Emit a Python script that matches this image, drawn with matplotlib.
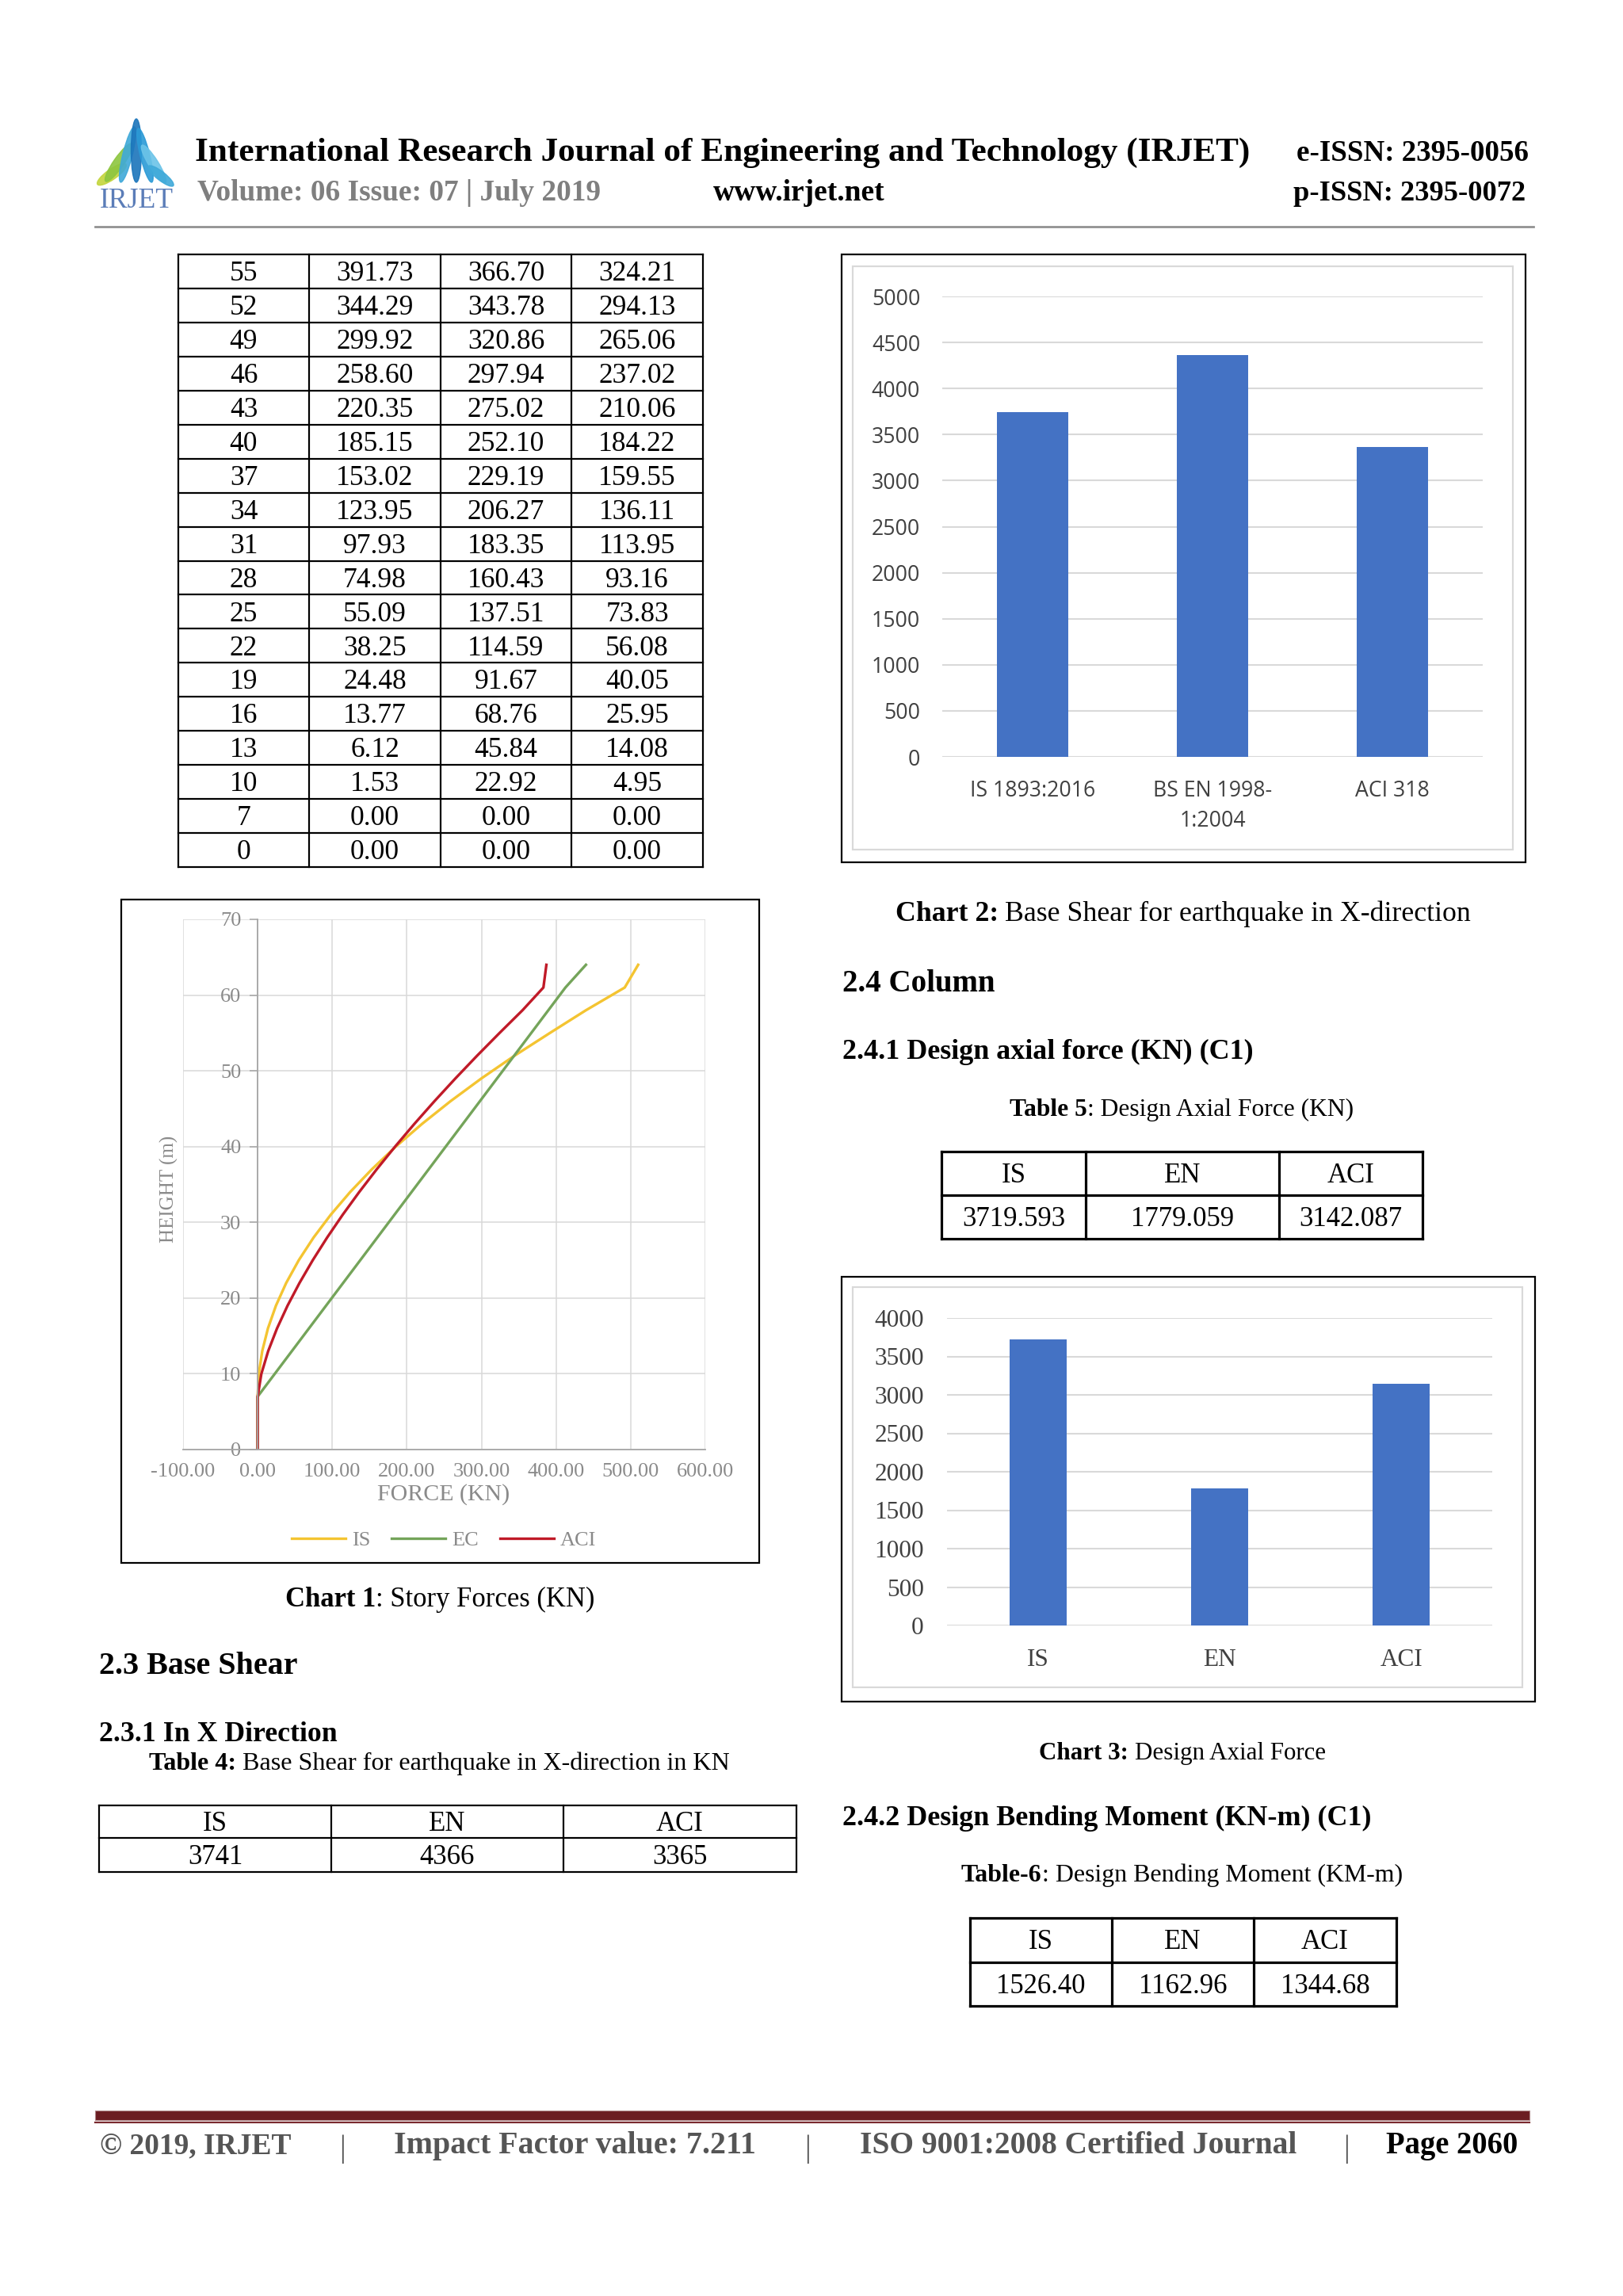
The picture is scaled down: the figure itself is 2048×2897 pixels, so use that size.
import matplotlib
matplotlib.use("Agg")
import matplotlib.pyplot as plt
from matplotlib.patches import Rectangle, Ellipse
import numpy as np

# ---------------- data ----------------
table_heights = [55, 52, 49, 46, 43, 40, 37, 34, 31, 28, 25, 22, 19, 16, 13, 10, 7, 0]
table_is = [391.73, 344.29, 299.92, 258.60, 220.35, 185.15, 153.02, 123.95, 97.93,
            74.98, 55.09, 38.25, 24.48, 13.77, 6.12, 1.53, 0.00, 0.00]
table_en = [366.70, 343.78, 320.86, 297.94, 275.02, 252.10, 229.19, 206.27, 183.35,
            160.43, 137.51, 114.59, 91.67, 68.76, 45.84, 22.92, 0.00, 0.00]
table_aci = [324.21, 294.13, 265.06, 237.02, 210.06, 184.22, 159.55, 136.11, 113.95,
             93.16, 73.83, 56.08, 40.05, 25.95, 14.08, 4.95, 0.00, 0.00]
top_heights = [64, 61, 58]
top_is = [510.0, 492.0, 440.0]
top_en = [440.0, 412.5, 389.6]
top_aci = [387.0, 383.0, 355.0]

story_series = ["IS", "EC", "ACI"]
force_ticks = [-100, 0, 100, 200, 300, 400, 500, 600]
height_ticks = [0, 10, 20, 30, 40, 50, 60, 70]

base_shear_codes = ["IS 1893:2016", "BS EN 1998-\n1:2004", "ACI 318"]
base_shear = [3741, 4366, 3365]
base_shear_ticks = [0, 500, 1000, 1500, 2000, 2500, 3000, 3500, 4000, 4500, 5000]

code_short = ["IS", "EN", "ACI"]
axial_force = [3719.593, 1779.059, 3142.087]
axial_ticks = [0, 500, 1000, 1500, 2000, 2500, 3000, 3500, 4000]
bending_moment = [1526.40, 1162.96, 1344.68]

# ---------------- page ----------------
W, H = 2048, 2897
DPI = 100
PT = 72.0 / DPI          # points per pixel
SERIF = 'Liberation Serif'
SANS = 'Open Sans'

fig = plt.figure(figsize=(W / DPI, H / DPI), dpi=DPI)
fig.patch.set_facecolor('white')
page = fig.add_axes([0, 0, 1, 1])
page.set_xlim(0, W)
page.set_ylim(H, 0)
page.axis('off')
renderer = fig.canvas.get_renderer()


def measure(s, size, weight, family=SERIF):
    if s.strip() == '':
        return measure('x' + s + 'x', size, weight, family) - measure('xx', size, weight, family)
    t = page.text(0, 0, s, fontsize=size, fontweight=weight, family=family)
    w = t.get_window_extent(renderer=renderer).width
    t.remove()
    return w


def rich(x, y, parts, width=None, size=None, ha='left', family=SERIF):
    parts = [(p[0], p[1], p[2] if len(p) > 2 else 'black') for p in parts]
    base = 20.0
    ws = [measure(s, base, wt, family) for s, wt, c in parts]
    tot = sum(ws)
    if width is not None:
        size = base * width / tot
    sc = size / base
    ws = [w * sc for w in ws]
    tot *= sc
    x0 = x if ha == 'left' else (x - tot / 2 if ha == 'center' else x - tot)
    for (s, wt, c), w in zip(parts, ws):
        if s.strip():
            page.text(x0, y, s, fontsize=size, fontweight=wt, family=family,
                      color=c, va='baseline', ha='left')
        x0 += w
    return size


def hline(x0, x1, y, lw_px, color='black'):
    page.plot([x0, x1], [y, y], color=color, lw=lw_px * PT, solid_capstyle='projecting')


def vline(x, y0, y1, lw_px, color='black'):
    page.plot([x, x], [y0, y1], color=color, lw=lw_px * PT, solid_capstyle='projecting')


def grid_table(xs, ys, rows, size, lw_px):
    for x in xs:
        vline(x, ys[0], ys[-1], lw_px)
    for y in ys:
        hline(xs[0], xs[-1], y, lw_px)
    cap = 0.66 * size / PT
    for i, row in enumerate(rows):
        yc = (ys[i] + ys[i + 1]) / 2
        for j, s in enumerate(row):
            xc = (xs[j] + xs[j + 1]) / 2
            page.text(xc, yc + cap / 2, s, fontsize=size, family=SERIF,
                      ha='center', va='baseline', color='black')


def box(x0, y0, x1, y1, lw_px, color):
    page.add_patch(Rectangle((x0, y0), x1 - x0, y1 - y0, fill=False,
                             edgecolor=color, lw=lw_px * PT))


# ---------------- header ----------------
leaves = [(141, 220, 13, 44, 55, '#c3d53c'), (150, 205, 13, 58, 35, '#8dc63f'),
          (161, 195, 12, 72, 14, '#3fa9d9'), (172, 190, 13, 80, 0, '#1b75bb'),
          (183, 196, 12, 70, -14, '#2b9ad6'), (194, 207, 12, 56, -32, '#6cc4e8'),
          (203, 222, 11, 40, -52, '#3fa9d9')]
for cx, cy, w, h, a, c in leaves:
    page.add_patch(Ellipse((cx, cy), w, h, angle=a, color=c, alpha=0.9))
rich(126, 262, [("IRJET", 'normal', '#5b7db8')], width=93)

rich(246, 203, [("International Research Journal of Engineering and Technology (IRJET)", 'bold')],
     width=1330)
rich(1928, 203, [("e-ISSN: 2395-0056", 'bold')], width=292, ha='right')
rich(249, 253, [("Volume: 06 Issue: 07 | July 2019", 'bold', '#7f7f7f')], width=509)
rich(900, 253, [("www.irjet.net", 'bold')], width=217)
rich(1924, 253, [("p-ISSN: 2395-0072", 'bold')], width=292, ha='right')
hline(120, 1935, 286, 2.7, '#8f8f8f')

# ---------------- table of storey forces ----------------
t1_rows = [[str(h), f"{a:.2f}", f"{b:.2f}", f"{c:.2f}"]
           for h, a, b, c in zip(table_heights, table_is, table_en, table_aci)]
grid_table([225, 390, 556, 721, 887], list(np.linspace(321, 1094, len(t1_rows) + 1)),
           t1_rows, 25.5, 2.2)

# ---------------- Chart 1: story forces ----------------
box(153, 1135, 958, 1972, 2.2, 'black')
x0p, x1p, ytp, ybp = 231, 890, 1160, 1829
ax1 = fig.add_axes([x0p / W, 1 - ybp / H, (x1p - x0p) / W, (ybp - ytp) / H])
heights = table_heights[::-1] + top_heights[::-1]
is_f = table_is[::-1] + top_is[::-1]
en_f = table_en[::-1] + top_en[::-1]
aci_f = table_aci[::-1] + top_aci[::-1]
colors1 = ['#f4c431', '#74a45a', '#c01a28']
for vals, lab, col in zip([is_f, en_f, aci_f], story_series, colors1):
    ax1.plot(vals, heights, color=col, lw=2.4, label=lab, solid_joinstyle='round')
ax1.set_xlim(-100, 600)
ax1.set_ylim(0, 70)
ax1.set_xticks(force_ticks)
ax1.set_xticklabels([f"{v:.2f}" for v in force_ticks])
ax1.set_yticks(height_ticks)
ax1.grid(True, color='#d9d9d9', lw=1.1)
ax1.set_axisbelow(True)
for s in ['top', 'right']:
    ax1.spines[s].set_visible(False)
ax1.spines['left'].set_position(('data', 0))
for s in ['left', 'bottom']:
    ax1.spines[s].set_color('#a6a6a6')
    ax1.spines[s].set_linewidth(1.3)
ax1.tick_params(axis='y', direction='out', length=7, width=1.1, color='#a6a6a6', pad=8,
                labelsize=19, labelcolor='#8a8a8a')
ax1.tick_params(axis='x', length=0, pad=12, labelsize=19, labelcolor='#8a8a8a')
for lbl in ax1.get_xticklabels() + ax1.get_yticklabels():
    lbl.set_family(SERIF)
ax1.set_xlabel("FORCE (KN)", family=SERIF, fontsize=21.5, color='#8a8a8a')
ax1.xaxis.set_label_coords((560 - x0p) / (x1p - x0p), (ybp - 1872) / (ybp - ytp))
ax1.set_ylabel("HEIGHT (m)", family=SERIF, fontsize=18, color='#8a8a8a')
ax1.yaxis.set_label_coords((225 - x0p) / (x1p - x0p), (ybp - 1500) / (ybp - ytp))
leg = ax1.legend(loc='center', bbox_to_anchor=(560 / W, 1 - 1943 / H),
                 bbox_transform=fig.transFigure, ncol=3, frameon=False,
                 handlelength=2.6, handletextpad=0.3, columnspacing=1.0,
                 prop={'family': SERIF, 'size': 19})
for t in leg.get_texts():
    t.set_color('#8a8a8a')

# ---------------- Chart 2: base shear ----------------
box(1062, 321, 1925, 1088, 2.2, 'black')
box(1076, 336, 1909, 1072, 2.2, '#d9d9d9')
ax2 = fig.add_axes([1189 / W, 1 - 955 / H, (1871 - 1189) / W, (955 - 374) / H])
ax2.bar(range(len(base_shear)), base_shear, width=0.397, color='#4472c4', zorder=3)
ax2.set_xlim(-0.5, 2.5)
ax2.set_ylim(0, 5000)
ax2.set_yticks(base_shear_ticks)
ax2.set_xticks(range(len(base_shear_codes)))
ax2.set_xticklabels(base_shear_codes, linespacing=1.45)
ax2.yaxis.grid(True, color='#d9d9d9', lw=1.5)
ax2.set_axisbelow(True)
for s in ax2.spines.values():
    s.set_visible(False)
ax2.tick_params(axis='both', length=0, labelsize=19.2, labelcolor='#404040')
ax2.tick_params(axis='y', pad=20)
ax2.tick_params(axis='x', pad=21)
for lbl in ax2.get_xticklabels() + ax2.get_yticklabels():
    lbl.set_family(SANS)

# ---------------- Chart 3: design axial force ----------------
box(1062, 1611, 1937, 2147, 2.2, 'black')
box(1076, 1624, 1921, 2129, 2.2, '#d9d9d9')
ax3 = fig.add_axes([1195 / W, 1 - 2051 / H, (1883 - 1195) / W, (2051 - 1663) / H])
ax3.bar(range(len(axial_force)), axial_force, width=0.314, color='#4472c4', zorder=3)
ax3.set_xlim(-0.5, 2.5)
ax3.set_ylim(0, 4000)
ax3.set_yticks(axial_ticks)
ax3.set_xticks(range(len(code_short)))
ax3.set_xticklabels(code_short)
ax3.yaxis.grid(True, color='#d9d9d9', lw=1.5)
ax3.set_axisbelow(True)
for s in ax3.spines.values():
    s.set_visible(False)
ax3.tick_params(axis='both', length=0, labelsize=22.5, labelcolor='#404040')
ax3.tick_params(axis='y', pad=21)
ax3.tick_params(axis='x', pad=21)
for lbl in ax3.get_xticklabels() + ax3.get_yticklabels():
    lbl.set_family(SERIF)

# ---------------- left column text ----------------
rich(555, 2027, [("Chart 1", 'bold'), (": Story Forces (KN)", 'normal')], width=391, ha='center')
rich(125, 2112, [("2.3 Base Shear", 'bold')], width=251)
rich(125, 2197, [("2.3.1 In X Direction", 'bold')], width=300)
rich(188, 2233, [("Table 4:", 'bold'), (" ", 'normal'),
                 ("Base Shear for earthquake in X-direction in KN", 'normal')], width=734)
grid_table([125, 418, 711, 1005], [2278, 2319, 2362],
           [code_short, [str(v) for v in base_shear]], 25, 2.2)

# ---------------- right column text ----------------
rich(1492, 1162, [("Chart 2:", 'bold'), (" ", 'normal'),
                  ("Base Shear for earthquake in X-direction", 'normal')], width=725, ha='center')
rich(1063, 1251, [("2.4 Column", 'bold')], width=193)
rich(1063, 1336, [("2.4.1 Design axial force (KN) (C1)", 'bold')], width=519)
rich(1492, 1408, [("Table 5", 'bold'), (": Design Axial Force (KN)", 'normal')], width=435, ha='center')
grid_table([1188, 1370, 1614, 1795], [1453, 1508, 1563],
           [code_short, [f"{v:.3f}" for v in axial_force]], 25, 3.2)
rich(1492, 2220, [("Chart 3:", 'bold'), (" ", 'normal'), ("Design Axial Force", 'normal')],
     width=362, ha='center')
rich(1063, 2303, [("2.4.2 Design Bending Moment (KN-m) (C1)", 'bold')], width=667)
rich(1492, 2374, [("Table-6", 'bold'), (": Design Bending Moment (KM-m)", 'normal')],
     width=558, ha='center')
grid_table([1224, 1403, 1582, 1762], [2420, 2476, 2531],
           [code_short, [f"{v:.2f}" for v in bending_moment]], 25, 3.2)

# ---------------- footer ----------------
page.add_patch(Rectangle((120, 2663), 1810, 12, facecolor='#6b1d22', edgecolor='#b08a8c', lw=0.8))
hline(120, 1930, 2678, 2.2, '#7a2a2f')
rich(126, 2717, [("\u00a9 2019, IRJET", 'bold', '#555555')], width=241)
rich(497, 2717, [("Impact Factor value: 7.211", 'bold', '#555555')], width=457)
rich(1085, 2717, [("ISO 9001:2008 Certified Journal", 'bold', '#555555')], width=551)
rich(1749, 2717, [("Page 2060", 'bold', 'black')], width=166)
for xs in [432, 1019, 1699]:
    page.text(xs, 2721, "|", fontsize=28, family=SERIF, color='#555555', ha='center', va='baseline')

fig.savefig('out.png', dpi=DPI, facecolor='white')
